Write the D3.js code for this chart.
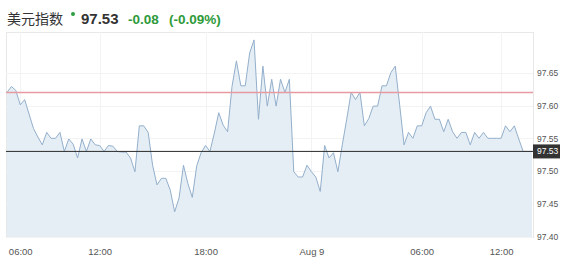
<!DOCTYPE html>
<html>
<head>
<meta charset="utf-8">
<script src="https://cdn.jsdelivr.net/npm/d3@7"></script>
<style>
  body { margin: 0; background: #fff; }
  svg { display: block; }
</style>
</head>
<body>
<script>
'use strict';

// price series, one value per bar
const prices = [
    97.620, 97.629, 97.623, 97.601, 97.609, 97.587, 97.565, 97.552, 97.540, 97.559,
    97.550, 97.550, 97.559, 97.530, 97.549, 97.541, 97.520, 97.549, 97.530, 97.549,
    97.540, 97.539, 97.530, 97.539, 97.538, 97.530, 97.529, 97.529, 97.520, 97.499,
    97.569, 97.569, 97.559, 97.509, 97.479, 97.489, 97.489, 97.471, 97.438, 97.459,
    97.509, 97.481, 97.460, 97.508, 97.528, 97.539, 97.530, 97.558, 97.589, 97.570,
    97.560, 97.629, 97.668, 97.630, 97.630, 97.680, 97.700, 97.579, 97.660, 97.599,
    97.640, 97.599, 97.640, 97.620, 97.640, 97.499, 97.491, 97.491, 97.509, 97.499,
    97.491, 97.469, 97.539, 97.520, 97.528, 97.499, 97.540, 97.579, 97.620, 97.609,
    97.620, 97.569, 97.580, 97.599, 97.599, 97.630, 97.630, 97.650, 97.660, 97.601,
    97.540, 97.559, 97.550, 97.569, 97.569, 97.589, 97.599, 97.579, 97.579, 97.560,
    97.579, 97.560, 97.550, 97.559, 97.559, 97.540, 97.559, 97.550, 97.559, 97.550,
    97.550, 97.550, 97.550, 97.569, 97.560, 97.569, 97.549, 97.530, 97.530, 97.530
];

const xTickIdx = [3, 21, 45, 69, 94, 112];
const xTickLabels = ['06:00', '12:00', '18:00', 'Aug 9', '06:00', '12:00'];
const yTicks = [97.40, 97.45, 97.50, 97.55, 97.60, 97.65];

const indexName = '美元指数';
const lastPrice = 97.53;
const prevClose = 97.62;
const changeText = '-0.08';
const changePctText = '(-0.09%)';

(function () {
    const W = 578, H = 264;
    const plot = { left: 6, right: 533, top: 32, bottom: 237 };

    const svg = d3.select('body').append('svg')
        .attr('width', W)
        .attr('height', H);

    const xScale = d3.scaleLinear()
        .domain([0, prices.length - 1])
        .range([7, 532]);

    const yScale = d3.scaleLinear()
        .domain([97.40, 97.65])
        .range([236.7, 72.7]);

    drawGrid();
    drawSeries();
    drawRefLines();
    drawAxes();
    makeTitle();

    // light frame plus faint grid lines
    function drawGrid() {
        svg.append('rect')
            .attr('x', plot.left + 0.5)
            .attr('y', plot.top + 0.5)
            .attr('width', plot.right - plot.left)
            .attr('height', plot.bottom - plot.top)
            .attr('fill', 'none')
            .attr('stroke', '#e8e8e8');

        svg.append('g')
            .selectAll('line.h')
            .data(yTicks)
            .enter()
            .append('line')
            .attr('x1', plot.left)
            .attr('x2', plot.right)
            .attr('y1', d => Math.round(yScale(d)) + 0.5)
            .attr('y2', d => Math.round(yScale(d)) + 0.5)
            .attr('stroke', '#f3f3f3');

        svg.append('g')
            .selectAll('line.v')
            .data(xTickIdx)
            .enter()
            .append('line')
            .attr('x1', d => Math.round(xScale(d)) + 0.5)
            .attr('x2', d => Math.round(xScale(d)) + 0.5)
            .attr('y1', plot.top)
            .attr('y2', plot.bottom)
            .attr('stroke', '#f1f3f5');
    }

    function drawSeries() {
        const area = d3.area()
            .x((d, i) => xScale(i))
            .y0(plot.bottom)
            .y1(d => yScale(d));

        const line = d3.line()
            .x((d, i) => xScale(i))
            .y(d => yScale(d));

        svg.append('path')
            .datum(prices)
            .attr('d', area)
            .attr('fill', '#e5eef5');

        svg.append('path')
            .datum(prices)
            .attr('d', line)
            .attr('fill', 'none')
            .attr('stroke', '#93afcb')
            .attr('stroke-width', 1);
    }

    // previous close (red) and last price (black)
    function drawRefLines() {
        svg.append('line')
            .attr('x1', plot.left)
            .attr('x2', plot.right)
            .attr('y1', yScale(prevClose))
            .attr('y2', yScale(prevClose))
            .attr('stroke', '#e89aa2')
            .attr('stroke-width', 1.5);

        svg.append('line')
            .attr('x1', plot.left)
            .attr('x2', plot.right)
            .attr('y1', yScale(lastPrice))
            .attr('y2', yScale(lastPrice))
            .attr('stroke', '#2b2b2b')
            .attr('stroke-width', 1);
    }

    function drawAxes() {
        const yAxis = d3.axisRight(yScale)
            .tickValues(yTicks)
            .tickFormat(d3.format('.2f'))
            .tickSize(0)
            .tickPadding(4);

        const gy = svg.append('g')
            .attr('transform', `translate(${plot.right}, 0)`)
            .call(yAxis);
        gy.select('.domain').remove();
        gy.selectAll('text')
            .attr('fill', '#555')
            .style('font-family', '"Liberation Sans", Arial, sans-serif')
            .style('font-size', '8.5px');

        // last price tag on the right axis
        const yl = yScale(lastPrice);
        svg.append('rect')
            .attr('x', plot.right)
            .attr('y', yl - 7)
            .attr('width', 27)
            .attr('height', 14)
            .attr('fill', '#333');
        svg.append('text')
            .attr('x', plot.right + 4)
            .attr('y', yl)
            .attr('dy', '0.35em')
            .attr('fill', '#fff')
            .style('font-family', '"Liberation Sans", Arial, sans-serif')
            .style('font-size', '8.5px')
            .text(lastPrice.toFixed(2));

        const xAxis = d3.axisBottom(xScale)
            .tickValues(xTickIdx)
            .tickFormat((d, i) => xTickLabels[i])
            .tickSize(0)
            .tickPadding(11);

        const gx = svg.append('g')
            .attr('transform', `translate(0, ${plot.bottom})`)
            .call(xAxis);
        gx.select('.domain').remove();
        gx.selectAll('text')
            .attr('fill', '#555')
            .style('font-family', '"Liberation Sans", Arial, sans-serif')
            .style('font-size', '9.5px');
    }

    function makeTitle() {
        const g = svg.append('g');
        g.append('text')
            .attr('x', 7)
            .attr('y', 24)
            .attr('fill', '#333')
            .style('font-family', '"Noto Sans CJK SC", sans-serif')
            .style('font-size', '14px')
            .text(indexName);

        g.append('circle')
            .attr('cx', 73)
            .attr('cy', 14)
            .attr('r', 2)
            .attr('fill', '#2e9e3e');

        g.append('text')
            .attr('x', 81)
            .attr('y', 24)
            .attr('fill', '#333')
            .style('font-family', '"Liberation Sans", Arial, sans-serif')
            .style('font-weight', 'bold')
            .style('font-size', '15px')
            .text(lastPrice.toFixed(2));

        g.append('text')
            .attr('x', 128)
            .attr('y', 24)
            .attr('fill', '#2e9a3a')
            .style('font-family', '"Liberation Sans", Arial, sans-serif')
            .style('font-weight', 'bold')
            .style('font-size', '13.5px')
            .text(changeText);

        g.append('text')
            .attr('x', 169)
            .attr('y', 24)
            .attr('fill', '#2e9a3a')
            .style('font-family', '"Liberation Sans", Arial, sans-serif')
            .style('font-weight', 'bold')
            .style('font-size', '13.5px')
            .text(changePctText);
    }
})();
</script>
</body>
</html>
